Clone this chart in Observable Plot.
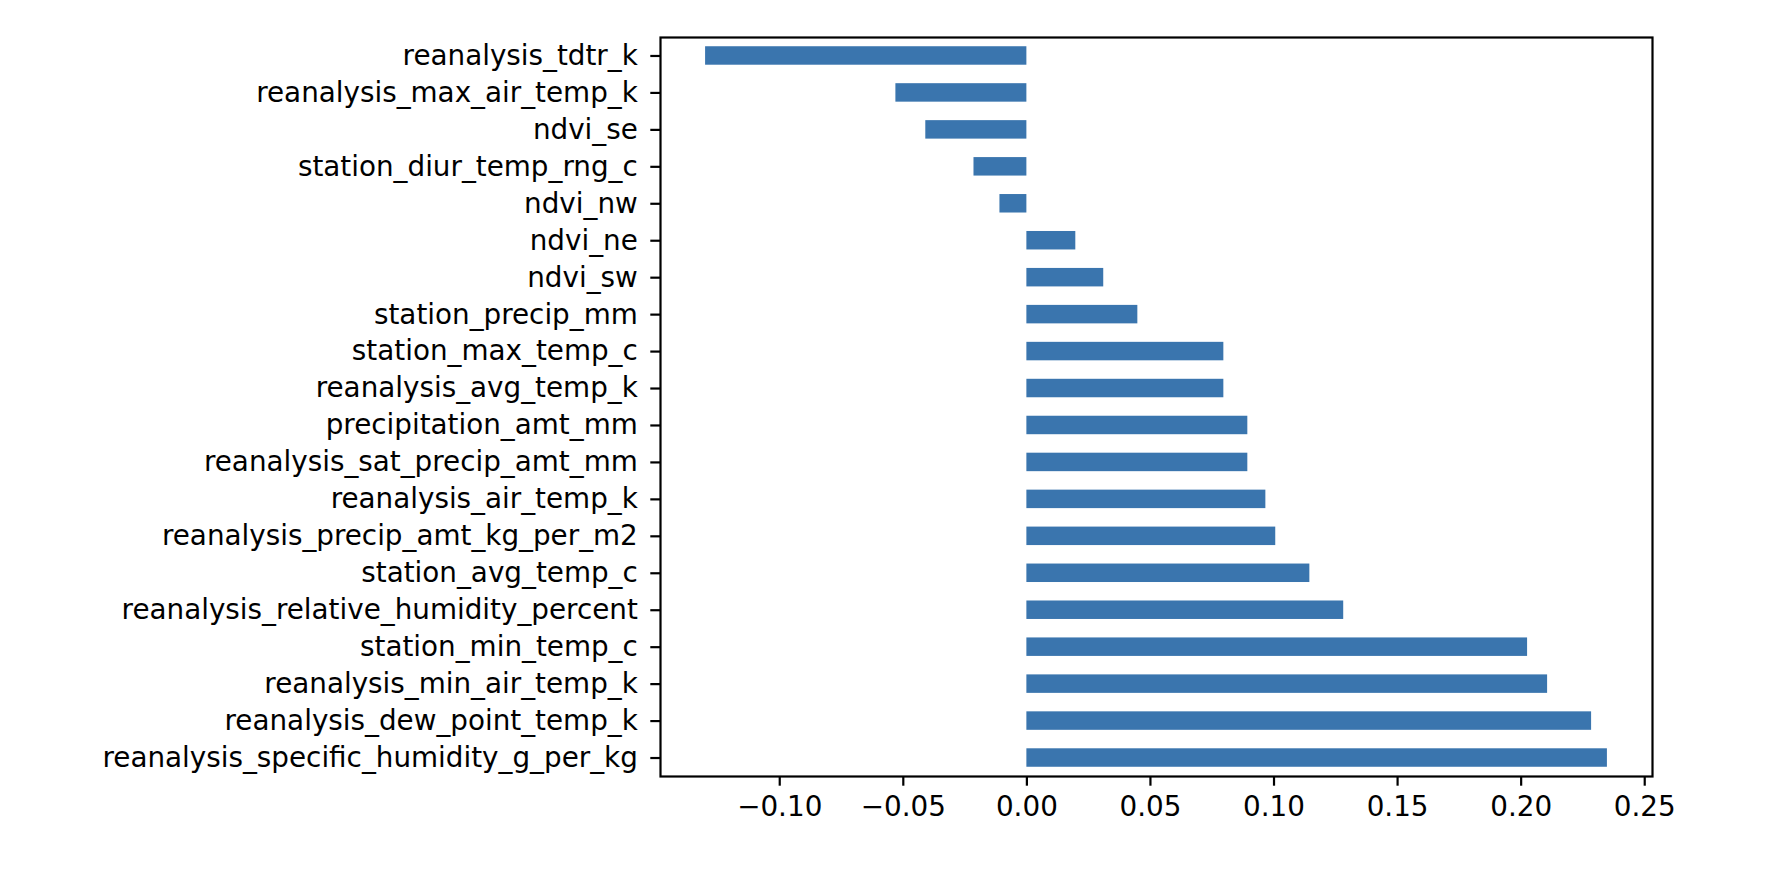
<!DOCTYPE html>
<html>
<head>
<meta charset="utf-8">
<script src="https://cdn.jsdelivr.net/npm/d3@7"></script>
<script src="https://cdn.jsdelivr.net/npm/@observablehq/plot@0.6"></script>
<style>
  html, body { margin: 0; padding: 0; background: #fff; }
  #chart svg { display: block; }
</style>
</head>
<body>
<div id="chart"></div>
<script>
const features = [
  "reanalysis_tdtr_k",
  "reanalysis_max_air_temp_k",
  "ndvi_se",
  "station_diur_temp_rng_c",
  "ndvi_nw",
  "ndvi_ne",
  "ndvi_sw",
  "station_precip_mm",
  "station_max_temp_c",
  "reanalysis_avg_temp_k",
  "precipitation_amt_mm",
  "reanalysis_sat_precip_amt_mm",
  "reanalysis_air_temp_k",
  "reanalysis_precip_amt_kg_per_m2",
  "station_avg_temp_c",
  "reanalysis_relative_humidity_percent",
  "station_min_temp_c",
  "reanalysis_min_air_temp_k",
  "reanalysis_dew_point_temp_k",
  "reanalysis_specific_humidity_g_per_kg"
];
const correlations = [
  -0.1300, -0.0530, -0.0409, -0.0214, -0.0109,
  0.0198, 0.0311, 0.0449, 0.0797, 0.0797,
  0.0894, 0.0894, 0.0967, 0.1007, 0.1145,
  0.1282, 0.2026, 0.2107, 0.2285, 0.2349
];
const xTicks = [-0.10, -0.05, 0.00, 0.05, 0.10, 0.15, 0.20, 0.25];

const data = features.map((name, i) => ({name, value: correlations[i]}));

const vmin = d3.min(correlations), vmax = d3.max(correlations);
const pad = (vmax - vmin) * 0.05;

const FS = 27.8, TICK = 9.7, LW = 2.2;

const chart = Plot.plot({
  width: 1782,
  height: 880,
  marginLeft: 660,
  marginRight: 130,
  marginTop: 37,
  marginBottom: 104,
  style: {fontFamily: "'DejaVu Sans', sans-serif", fontSize: FS + "px", color: "black", background: "white"},
  x: {domain: [vmin - pad, vmax + pad], label: null},
  y: {domain: features, paddingInner: 0.5, paddingOuter: 0.25, round: false, label: null},
  marks: [
    Plot.barX(data, {x: "value", y: "name", fill: "#3a75ae"}),
    Plot.frame({stroke: "black", strokeWidth: LW}),
    Plot.axisY({tickSize: TICK, tickPadding: 13, strokeWidth: LW, fontSize: FS, label: null}),
    Plot.axisX({ticks: xTicks, tickFormat: d3.format(".2f"), tickSize: TICK, tickPadding: TICK, strokeWidth: LW, fontSize: FS, label: null})
  ]
});
document.getElementById("chart").appendChild(chart);
</script>
</body>
</html>
